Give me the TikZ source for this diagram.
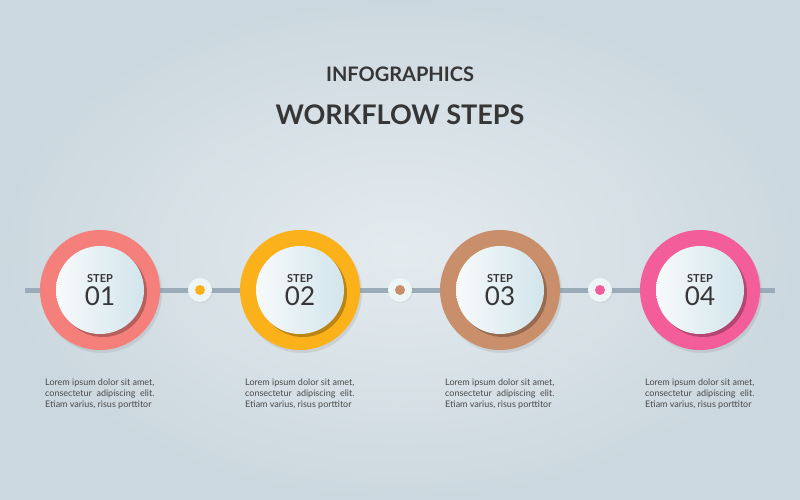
\documentclass[tikz,border=0pt]{standalone}
\usepackage{fontspec}
\setmainfont{Lato}
\usetikzlibrary{shadows,shadings}
\definecolor{bgin}{HTML}{E4EBEF}
\definecolor{bgout}{HTML}{CCD8DF}
\definecolor{linec}{HTML}{9BACB8}
\definecolor{txt}{HTML}{363636}
\definecolor{cA}{HTML}{F47F7B}
\definecolor{cB}{HTML}{FBB21A}
\definecolor{cC}{HTML}{C98F6A}
\definecolor{cD}{HTML}{F35D99}
\definecolor{inA}{HTML}{F7FAFB}
\definecolor{inB}{HTML}{D2E5EC}
\tikzset{
  ring/.style={circle, minimum size=120pt, inner sep=0pt, draw=none,
    drop shadow={shadow xshift=2pt, shadow yshift=-3pt, opacity=0.18}},
  core/.style={circle, minimum size=88pt, inner sep=0pt, draw=none,
    left color=inA, right color=inB,
    drop shadow={shadow xshift=3pt, shadow yshift=-3pt, opacity=0.25, fill=black}},
  steplbl/.style={text=txt, font=\fontsize{11}{11}\selectfont\bfseries, inner sep=0pt},
  numlbl/.style={text=txt, font=\fontsize{26}{26}\selectfont, inner sep=0pt},
  dotring/.style={circle, minimum size=24pt, inner sep=0pt, fill=white!60!inB,
    drop shadow={shadow xshift=1pt, shadow yshift=-1pt, opacity=0.12}},
  dotcore/.style={circle, minimum size=10pt, inner sep=0pt},
  body/.style={text=txt!90, font=\fontsize{9}{11}\selectfont, align=left, anchor=north west, inner sep=0pt},
  conn/.style={draw=linec, line width=5pt}
}
\begin{document}
\begin{tikzpicture}[x=1pt,y=-1pt]
\useasboundingbox (0,0) rectangle (800,500);
\shade[inner color=bgin, outer color=bgout] (0,0) rectangle (800,500);
\node[text=txt, font=\fontsize{20}{22}\selectfont\bfseries] (t1) at (400,74) {INFOGRAPHICS};
\node[text=txt, font=\fontsize{27}{30}\selectfont\bfseries] (t2) at (400,115) {WORKFLOW STEPS};
\coordinate (L) at (25,290);
\coordinate (R) at (775,290);
\draw[conn] (L) -- (R);
\foreach \i/\x/\c in {1/100/cA,2/300/cB,3/500/cC,4/700/cD}{
  \node[ring, fill=\c] (r\i) at (\x,290) {};
  \node[core] (c\i) at (\x,290) {};
  \node[steplbl] (s\i) at (\x,279) {STEP};
  \node[numlbl] (n\i) at (\x,296) {0\i};
  \node[body] (b\i) at (\x-55,379) {Lorem ipsum dolor sit amet,\\consectetur \ adipiscing \ elit.\\Etiam varius, risus porttitor};
}
\foreach \i/\x/\c in {1/200/cB,2/400/cC,3/600/cD}{
  \node[dotring] (d\i) at (\x,290) {};
  \node[dotcore, fill=\c] (e\i) at (\x,290) {};
}
\end{tikzpicture}
\end{document}
